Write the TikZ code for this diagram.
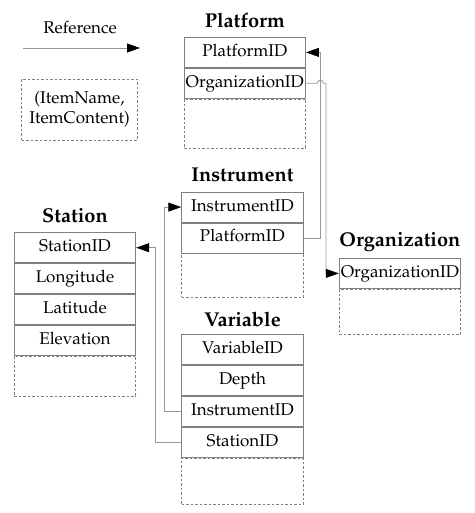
\documentclass[tikz,border=0pt]{standalone}
\usepackage[T1]{fontenc}
\renewcommand{\rmdefault}{ppl}
\usepackage{tikz}
\usetikzlibrary{arrows.meta,calc}
\usetikzlibrary{positioning}

\definecolor{rowgray}{gray}{0.5}
\definecolor{linkgray}{gray}{0.6}

\tikzset{
  title/.style={font=\bfseries\fontsize{20}{24}\selectfont, inner sep=0pt, text depth=0pt},
  field/.style={draw=rowgray, line width=0.8pt, minimum width=121.5pt, minimum height=30pt,
    inner sep=0pt, text height=12pt, text depth=4pt, font=\fontsize{17}{20}\selectfont},
  spare/.style={draw=rowgray, dashed, dash pattern=on 2.5pt off 2pt, line width=0.8pt,
    minimum width=121.5pt, inner sep=0pt},
  link/.style={draw=linkgray, line width=0.8pt,
    -{Triangle[length=13pt,width=9pt,color=black,fill=black]}}
}

\begin{document}
\begin{tikzpicture}[x=1pt, y=-1pt]
    \useasboundingbox (0,0) rectangle (474,513);

    % LEGEND
    \node[font=\fontsize{17}{20}\selectfont] (REFERENCE_LABEL) at (80,28) {Reference};
    \coordinate (REFERENCE_START) at (23,48);
    \coordinate (REFERENCE_END) at (140,48);
    \node[spare, minimum width=115.6pt, minimum height=61pt, align=center,
      font=\fontsize{17}{20}\selectfont] (ITEM_LEGEND) at (79.5,109.5)
    {(ItemName,\\ItemContent)};

    % PLATFORM
    \node[field, anchor=north] (PLATFORM_PLATFORMID) at (244.8,37) {PlatformID};
    \node[field, below=0pt of PLATFORM_PLATFORMID] (PLATFORM_ORGANIZATIONID) {OrganizationID};
    \node[spare, minimum height=49pt, below=0pt of PLATFORM_ORGANIZATIONID] (PLATFORM_SPARE) {};
    \node[title, above=9pt of PLATFORM_PLATFORMID] (PLATFORM) {Platform};

    % INSTRUMENT
    \node[field, anchor=north] (INSTRUMENT_INSTRUMENTID) at (242.4,191.7) {InstrumentID};
    \node[field, below=0pt of INSTRUMENT_INSTRUMENTID] (INSTRUMENT_PLATFORMID) {PlatformID};
    \node[spare, minimum height=43.3pt, below=0pt of INSTRUMENT_PLATFORMID] (INSTRUMENT_SPARE) {};
    \node[title, above=10pt of INSTRUMENT_INSTRUMENTID] (INSTRUMENT) {Instrument};

    % STATION
    \node[field, anchor=north] (STATION_STATIONID) at (75,232.3) {StationID};
    \node[field, below=0pt of STATION_STATIONID] (STATION_LONGITUDE) {Longitude};
    \node[field, below=0pt of STATION_LONGITUDE] (STATION_LATITUDE) {Latitude};
    \node[field, below=0pt of STATION_LATITUDE] (STATION_ELEVATION) {Elevation};
    \node[spare, minimum height=40pt, below=0pt of STATION_ELEVATION] (STATION_SPARE) {};
    \node[title, above=10pt of STATION_STATIONID] (STATION) {Station};

    % ORGANIZATION
    \node[field, anchor=north] (ORGANIZATION_ORGANIZATIONID) at (399.9,258) {OrganizationID};
    \node[spare, minimum height=45pt, below=0pt of ORGANIZATION_ORGANIZATIONID] (ORGANIZATION_SPARE) {};
    \node[title, above=6pt of ORGANIZATION_ORGANIZATIONID, text depth=] (ORGANIZATION) {Organization};

    % VARIABLE
    \node[field, anchor=north] (VARIABLE_VARIABLEID) at (242.5,334.3) {VariableID};
    \node[field, below=0pt of VARIABLE_VARIABLEID] (VARIABLE_DEPTH) {Depth};
    \node[field, below=0pt of VARIABLE_DEPTH] (VARIABLE_INSTRUMENTID) {InstrumentID};
    \node[field, below=0pt of VARIABLE_INSTRUMENTID] (VARIABLE_STATIONID) {StationID};
    \node[spare, minimum height=46.7pt, below=0pt of VARIABLE_STATIONID] (VARIABLE_SPARE) {};
    \node[title, above=8pt of VARIABLE_VARIABLEID] (VARIABLE) {Variable};

    % BUSES
    \coordinate (PLATFORM_BUS) at (320.3,0);
    \coordinate (ORGANIZATION_BUS) at (326,0);
    \coordinate (INSTRUMENT_BUS) at (164,0);
    \coordinate (STATION_BUS) at (155,0);

    % LINES
    \draw[link] (REFERENCE_START) -- (REFERENCE_END);
    \draw[link] (INSTRUMENT_PLATFORMID.east)
      -| (PLATFORM_BUS |- PLATFORM_PLATFORMID.east) -- (PLATFORM_PLATFORMID.east);
    \draw[link] (PLATFORM_ORGANIZATIONID.east)
      -- ($(PLATFORM_BUS |- PLATFORM_ORGANIZATIONID.east)+(-3,0)$)
      arc[start angle=180, end angle=0, radius=3pt]
      -| (ORGANIZATION_BUS |- ORGANIZATION_ORGANIZATIONID.west) -- (ORGANIZATION_ORGANIZATIONID.west);
    \draw[link] (VARIABLE_INSTRUMENTID.west)
      -| (INSTRUMENT_BUS |- INSTRUMENT_INSTRUMENTID.west) -- (INSTRUMENT_INSTRUMENTID.west);
    \draw[link] (VARIABLE_STATIONID.west)
      -| (STATION_BUS |- STATION_STATIONID.east) -- (STATION_STATIONID.east);
\end{tikzpicture}
\end{document}
